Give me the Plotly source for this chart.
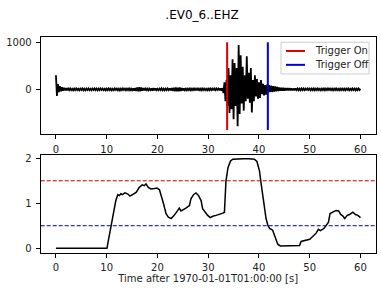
import numpy as np
import plotly.graph_objects as go

# ---------------- data ----------------
station_title = ".EV0_6..EHZ"
xlabel = "Time after 1970-01-01T01:00:00 [s]"
sample_step = 0.2  # seconds between trace samples

trace_values = [
    300, -140, 110, -60, 70, -40, 45, -30, 35, -20, 25,
    -22, 18, -15, 20, -17, 13, -19, 16, -14, 21,
    -16, 12, -20, 17, -13, 19, -18, 14, -21, 15,
    -14, 18, -17, 13, -20, 16, -12, 19, -15, 17,
    -19, 14, -16, 21, -13, 17, -18, 12, -20, 15,
    -15, 19, -14, 16, -21, 13, -17, 20, -12, 18,
    -18, 15, -22, 14, -16, 19, -13, 17, -19, 16,
    -14, 20, -17, 15, -19, 22, -25, 30, -35, 38,
    -42, 45, -38, 40, -30, 28, -22, 18, -16, 14,
    -20, 17, -15, 19, -25, 28, -22, 20, -16, 13,
    -18, 16, -14, 21, -17, 15, -19, 14, -16, 18,
    -15, 20, -22, 25, -30, 34, -38, 42, -40, 36,
    -42, 38, -32, 28, -24, 20, -17, 15, -19, 16,
    -14, 18, -20, 15, -17, 19, -13, 16, -21, 17,
    -16, 14, -19, 20, -15, 17, -18, 13, -20, 16,
    -17, 19, -14, 15, -21, 18, -16, 20, -13, 17,
    -19, 22, -25, 28,
    -80, 150, -250, 200, -350, 450, -500, 300, -420, 640,
    -630, 560, -350, 450, -780, 940, -520, 720, -300, 480,
    -450, 300, -250, 700, -200, 350, -280, 450, -490, 200,
    -250, 300, -150, 220, -200, 150, -180, 200, -100, 120,
    -130, 90, -110, 100, -70, 90,
    -60, 80, -55, 70, -45, 65, -40, 50, -35, 40,
    -30, 35, -28, 32, -25, 28, -22, 26, -20, 24,
    -18, 20, -22, 17, -19, 21, -15, 18, -20, 16,
    -17, 19, -14, 20, -16, 15, -21, 18, -13, 17,
    -19, 16, -15, 20, -18, 14, -17, 19, -16, 13,
    -20, 17, -14, 18, -19, 15, -16, 21, -13, 16,
    -18, 14, -20, 17, -15, 19, -17, 13, -19, 16,
    -14, 18, -16, 15, -20, 17, -13, 19, -18, 14,
    -16, 20, -15, 17, -19, 14, -17, 18, -15, 10,
]
trace_times = np.arange(len(trace_values)) * sample_step

trigger_on = [33.73]
trigger_off = [41.75]
trigger_ymin, trigger_ymax = -860, 1000
legend_labels = ["Trigger On", "Trigger Off"]
legend_colors = ["#e00000", "#0000e0"]

cft_times = [0, 2, 4, 6, 8, 10.0, 10.06, 10.3, 10.85, 11.4, 11.8, 12.2, 12.5, 12.8, 13.1,
             13.6, 14.1, 14.6, 15.1, 15.8, 16.4, 17.0, 17.4, 17.75, 18.2, 18.7,
             19.4, 19.9, 20.4, 20.8, 21.2, 21.7, 22.15, 22.7, 23.3, 24.0, 24.3,
             24.65, 25.2, 25.6, 26.3, 26.6, 27.1, 27.6, 28.1, 28.6, 28.9, 29.4,
             29.9, 30.4, 30.9, 31.55, 32.2, 32.9, 33.2, 33.5, 33.9, 34.4, 34.85,
             36.0, 37.0, 38.0, 39.1, 39.6, 40.1, 40.4, 40.8, 41.1, 41.4, 41.75,
             42.1, 42.7, 43.2, 43.7, 44.2, 45.7, 47.0, 48.0, 48.3, 49.1, 50.0,
             50.6, 51.3, 51.7, 52.1, 52.8, 53.25, 53.7, 54.0, 54.6, 55.2, 55.7,
             56.1, 56.5, 56.9, 57.4, 57.85, 58.5, 59.0, 59.5, 60.0]
cft_values = [0, 0, 0, 0, 0, 0, 0.0, 0.15, 0.46, 0.80, 1.06, 1.19, 1.17, 1.21, 1.19,
              1.23, 1.21, 1.16, 1.19, 1.24, 1.35, 1.41, 1.39, 1.43, 1.35, 1.32,
              1.33, 1.34, 1.30, 1.17, 0.99, 0.77, 0.69, 0.66, 0.73, 0.84, 0.89,
              0.83, 0.86, 0.89, 0.95, 1.10, 1.19, 1.23, 1.17, 1.06, 0.88, 0.80,
              0.73, 0.68, 0.71, 0.73, 0.75, 0.78, 0.80, 1.50, 1.79, 1.94, 1.98,
              1.99, 1.99, 1.99, 1.98, 1.93, 1.72, 1.46, 1.10, 0.80, 0.66, 0.51,
              0.44, 0.40, 0.26, 0.09, 0.05, 0.05, 0.055, 0.06, 0.15, 0.18, 0.20,
              0.26, 0.34, 0.42, 0.39, 0.44, 0.51, 0.58, 0.77, 0.80, 0.84, 0.83,
              0.75, 0.72, 0.66, 0.73, 0.75, 0.80, 0.75, 0.73, 0.68]
thr_on = 1.5
thr_off = 0.5

x_ticks = [0, 10, 20, 30, 40, 50, 60]
top_y_ticks = [0, 1000]
bottom_y_ticks = [0, 1, 2]

# ---------------- figure ----------------
W, H = 381, 291
FONT = "DejaVu Sans"


def px_x(p):
    return p / W


def px_y(p):
    return 1 - p / H


fig = go.Figure()

fig.add_trace(go.Scatter(x=trace_times, y=trace_values, mode="lines",
                         line=dict(color="black", width=1.8),
                         showlegend=False, xaxis="x", yaxis="y"))
for t in trigger_on:
    fig.add_trace(go.Scatter(x=[t, t], y=[trigger_ymin, trigger_ymax], mode="lines",
                             line=dict(color=legend_colors[0], width=2), name=legend_labels[0],
                             showlegend=False, xaxis="x", yaxis="y"))
for t in trigger_off:
    fig.add_trace(go.Scatter(x=[t, t], y=[trigger_ymin, trigger_ymax], mode="lines",
                             line=dict(color=legend_colors[1], width=2), name=legend_labels[1],
                             showlegend=False, xaxis="x", yaxis="y"))

fig.add_trace(go.Scatter(x=cft_times, y=cft_values, mode="lines",
                         line=dict(color="black", width=1.5),
                         showlegend=False, xaxis="x2", yaxis="y2"))
fig.add_trace(go.Scatter(x=[-3, 63], y=[thr_on, thr_on], mode="lines",
                         line=dict(color="#c00000", width=1, dash="4px,2px"),
                         showlegend=False, xaxis="x2", yaxis="y2"))
fig.add_trace(go.Scatter(x=[-3, 63], y=[thr_off, thr_off], mode="lines",
                         line=dict(color="#0000c0", width=1, dash="4px,2px"),
                         showlegend=False, xaxis="x2", yaxis="y2"))

axis_common = dict(showline=True, linecolor="black", linewidth=1, mirror=True,
                   ticks="outside", ticklen=4, tickcolor="black", tickwidth=1,
                   showgrid=False, zeroline=False,
                   tickfont=dict(family=FONT, size=10, color="#222"))

# legend box (drawn in paper coordinates, matplotlib-style)
shapes = [dict(type="rect", xref="paper", yref="paper",
               x0=px_x(281), x1=px_x(369), y0=px_y(72.7), y1=px_y(40.7),
               line=dict(color="#cccccc", width=1), fillcolor="rgba(255,255,255,0.9)",
               layer="above")]
annotations = []
for i, (lab, col) in enumerate(zip(legend_labels, legend_colors)):
    yc = 49.5 + 14 * i
    shapes.append(dict(type="line", xref="paper", yref="paper",
                       x0=px_x(286), x1=px_x(305), y0=px_y(yc), y1=px_y(yc),
                       line=dict(color=col, width=2), layer="above"))
    annotations.append(dict(text=lab, xref="paper", yref="paper", x=px_x(313), y=px_y(yc),
                            xanchor="left", yanchor="middle", showarrow=False,
                            font=dict(family=FONT, size=10, color="#222")))

x_dom = [px_x(40.7), px_x(375.7)]
fig.update_layout(
    width=W, height=H,
    margin=dict(l=0, r=0, t=0, b=0),
    paper_bgcolor="white", plot_bgcolor="white",
    font=dict(family=FONT, size=10, color="#222"),
    title=dict(text=station_title, x=px_x(202), xanchor="center",
               y=px_y(15), yanchor="middle",
               font=dict(family=FONT, size=12, color="black")),
    xaxis=dict(domain=x_dom, range=[-3, 63], tickvals=x_ticks, anchor="y",
               ticklabelstandoff=2, **axis_common),
    yaxis=dict(domain=[px_y(133), px_y(35)], range=[-937, 1117], tickvals=top_y_ticks,
               anchor="x", ticklabelstandoff=2, **axis_common),
    xaxis2=dict(domain=x_dom, range=[-3, 63], tickvals=x_ticks, anchor="y2",
                ticklabelstandoff=1,
                title=dict(text=xlabel, standoff=3, font=dict(family=FONT, size=10, color="#222")),
                **axis_common),
    yaxis2=dict(domain=[px_y(253.3), px_y(154.3)], range=[-0.1, 2.08], tickvals=bottom_y_ticks,
                anchor="x2", ticklabelstandoff=2, **axis_common),
    shapes=shapes,
    annotations=annotations,
    showlegend=False,
)

fig.write_html("out.html")
